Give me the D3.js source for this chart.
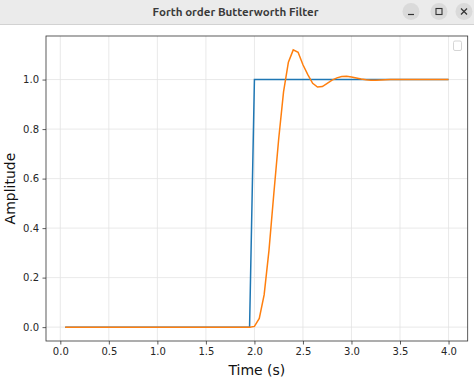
<!DOCTYPE html>
<html>
<head>
<meta charset="utf-8">
<script src="https://cdn.jsdelivr.net/npm/d3@7"></script>
<style>
html,body{margin:0;padding:0;background:#fff;}
svg{display:block;}
</style>
</head>
<body>
<svg id="chart" width="474" height="382"></svg>
<script>
const windowTitle = "Forth order Butterworth Filter";
const xLabel = "Time (s)";
const yLabel = "Amplitude";
const time = d3.range(1, 81).map(i => +(i * 0.05).toFixed(2)); // 0.05 .. 4.00
const stepInput = time.map(t => (t < 1.975 ? 0 : 1));
const filtered = [
  // 0.05 .. 1.95
  0,0,0,0,0,0,0,0,0,0,0,0,0,0,0,0,0,0,0,0,0,0,0,0,0,0,0,0,0,0,0,0,0,0,0,0,0,0,0,
  // 2.00 ..
  0.003,0.035,0.13,0.31,0.54,0.76,0.95,1.07,1.12,1.11,1.06,1.02,0.985,0.97,0.972,0.985,0.998,1.007,1.012,1.013,
  // 3.00 ..
  1.01,1.006,1.002,0.999,0.997,0.997,0.998,0.999,1.0,1.0,1.0,1.0,1.0,1.0,1.0,1.0,1.0,1.0,1.0,1.0,1.0
];
const xTicks = [0.0,0.5,1.0,1.5,2.0,2.5,3.0,3.5,4.0];
const yTicks = [0.0,0.2,0.4,0.6,0.8,1.0];

const svg = d3.select("#chart");
const W = 474, H = 382;

// window title bar
svg.append("rect").attr("x",0).attr("y",0).attr("width",W).attr("height",24).attr("fill","#ebebeb");
svg.append("line").attr("x1",0).attr("x2",W).attr("y1",24.5).attr("y2",24.5).attr("stroke","#d2d2d2");
svg.append("text").attr("x",235.5).attr("y",16).attr("text-anchor","middle")
  .attr("font-family","Ubuntu, 'DejaVu Sans', sans-serif").attr("font-weight","bold")
  .attr("font-size",11.5).attr("fill","#3a3a3a")
  .attr("textLength",166).attr("lengthAdjust","spacingAndGlyphs").text(windowTitle);
const btnX = [411, 439, 464];
btnX.forEach(cx => svg.append("circle").attr("cx",cx).attr("cy",11.5).attr("r",8.5).attr("fill","#dadada"));
svg.append("line").attr("x1",408).attr("x2",414).attr("y1",14.5).attr("y2",14.5).attr("stroke","#333").attr("stroke-width",1.2);
svg.append("rect").attr("x",436).attr("y",8.5).attr("width",6).attr("height",6).attr("fill","none").attr("stroke","#333").attr("stroke-width",1.1);
svg.append("path").attr("d","M461,8.5L467,14.5M467,8.5L461,14.5").attr("stroke","#333").attr("stroke-width",1.2);

// plot area
const pL = 46, pR = 467.7, pT = 36, pB = 341;
const xMin = 0.05, xMax = 4.0, xPad = (xMax - xMin) * 0.05;
const yMin = 0, yMax = d3.max(filtered), yPad = (yMax - yMin) * 0.05;
const x = d3.scaleLinear().domain([xMin - xPad, xMax + xPad]).range([pL, pR]);
const y = d3.scaleLinear().domain([yMin - yPad, yMax + yPad]).range([pB, pT]);

const g = svg.append("g");
// grid
g.selectAll(".gx").data(xTicks).enter().append("line")
  .attr("x1",d=>x(d)).attr("x2",d=>x(d)).attr("y1",pT).attr("y2",pB)
  .attr("stroke","#e3e3e3").attr("stroke-width",0.8);
g.selectAll(".gy").data(yTicks).enter().append("line")
  .attr("x1",pL).attr("x2",pR).attr("y1",d=>y(d)).attr("y2",d=>y(d))
  .attr("stroke","#e3e3e3").attr("stroke-width",0.8);

// axes
const xAxis = d3.axisBottom(x).tickValues(xTicks).tickFormat(d3.format(".1f")).tickSize(3.5).tickPadding(3.5);
const yAxis = d3.axisLeft(y).tickValues(yTicks).tickFormat(d3.format(".1f")).tickSize(3.5).tickPadding(3.5);
const gx = svg.append("g").attr("transform",`translate(0,${pB})`).call(xAxis);
const gy = svg.append("g").attr("transform",`translate(${pL},0)`).call(yAxis);
[gx, gy].forEach(a => {
  a.select(".domain").remove();
  a.selectAll("line").attr("stroke","#333").attr("stroke-width",0.8);
  a.selectAll("text").attr("font-family","'DejaVu Sans', sans-serif").attr("font-size",10).attr("fill","#262626");
});

// lines
const line = d3.line().x((d,i)=>x(time[i])).y(d=>y(d));
svg.append("path").datum(stepInput).attr("d",line).attr("fill","none").attr("stroke","#1f77b4").attr("stroke-width",1.5);
svg.append("path").datum(filtered).attr("d",line).attr("fill","none").attr("stroke","#ff7f0e").attr("stroke-width",1.5);

// frame
svg.append("rect").attr("x",pL).attr("y",pT).attr("width",pR-pL).attr("height",pB-pT)
  .attr("fill","none").attr("stroke","#333").attr("stroke-width",0.8);

// empty legend
svg.append("rect").attr("x",453.5).attr("y",41).attr("width",8).attr("height",9.5).attr("rx",1.5)
  .attr("fill","#fff").attr("stroke","#d0d0d0").attr("stroke-width",0.9);

// labels
svg.append("text").attr("x",(pL+pR)/2).attr("y",375).attr("text-anchor","middle")
  .attr("font-family","'DejaVu Sans', sans-serif").attr("font-size",14).attr("fill","#111").text(xLabel);
svg.append("text").attr("transform",`translate(15,${(pT+pB)/2}) rotate(-90)`).attr("text-anchor","middle")
  .attr("font-family","'DejaVu Sans', sans-serif").attr("font-size",14).attr("fill","#111").text(yLabel);
</script>
</body>
</html>
